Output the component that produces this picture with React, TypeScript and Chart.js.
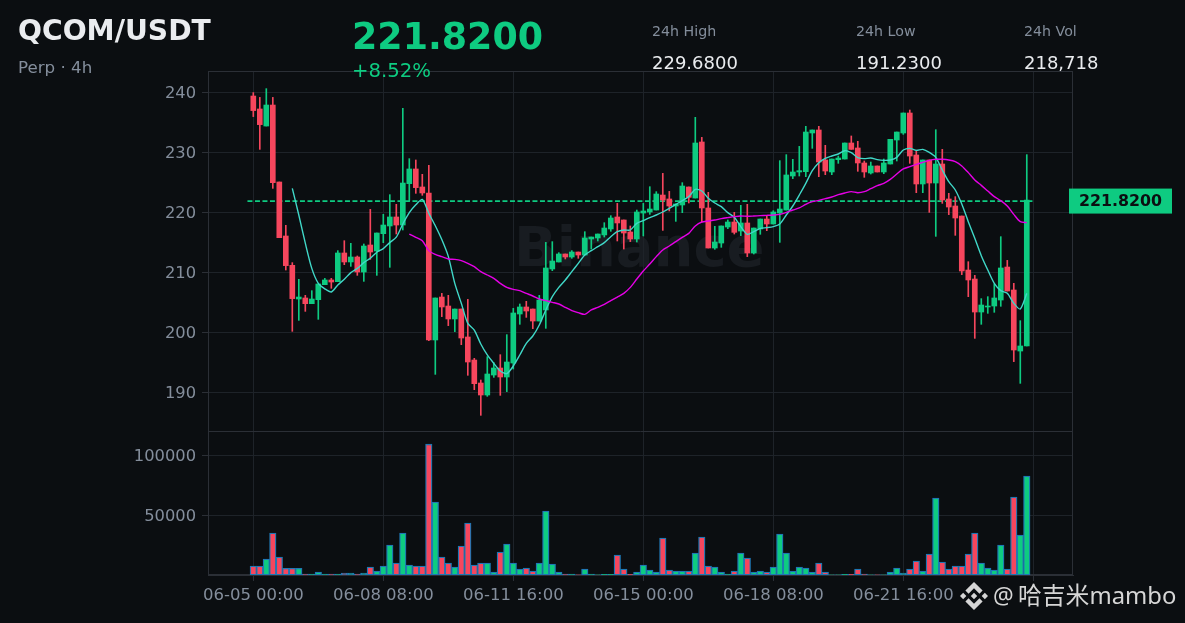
import React, { useEffect, useRef } from "react";
import { Chart, registerables } from "chart.js";

Chart.register(...registerables);

const opens = [
  239.33,237.17,234.33,237.83,225,216,211.11,205.5,205.67,204.72,
  205.39,207.89,208.67,208.39,213.17,211.67,212.5,210,214.5,213.5,
  216.39,217.67,219.17,217.83,224.72,227.17,224.17,223.17,198.67,205.83,
  204.33,202.17,203.83,199.17,195.33,191.5,189.5,192.83,194,192.5,
  194.83,203,204.17,203.83,201.83,203.67,210.5,211.67,213,212.5,
  213.33,212.83,215.5,215.67,216.17,217.17,219.17,218.67,216.67,215.5,
  219.83,220,220.33,222.83,222.17,221,221.17,224.17,222.33,231.67,
  220.67,214,214.83,217.5,218.33,216.83,218.17,213.17,217.17,218.83,
  218,219.83,220.33,226,226.67,226.72,233.17,233.67,228.67,226.67,
  228.72,228.83,231.5,230.67,228.17,226.5,227.67,226.67,228,232,
  233.17,236.5,229.5,224.67,228.67,224.83,228,222.17,221,219.33,
  210.33,208.83,203.33,204.17,204.33,205.33,210.83,207,196.83,197.67,
];
const closes = [
  236.9,234.56,237.83,224.89,215.72,211.06,205.56,205.83,204.72,205.5,
  208,208.67,208.33,213.17,211.67,212.5,210,214.33,213.33,216.5,
  217.83,219.17,217.83,224.83,227.17,224.06,223.17,198.67,205.67,204.17,
  202.17,203.83,199,195,191.39,189.5,193,194,192.5,195,
  203.17,204.17,203.5,201.83,205.33,210.67,211.83,213,212.5,213.33,
  212.83,215.67,215.83,216.33,217.33,219,218.17,216.5,215.5,220,
  220.17,220.5,223,222,221,221.33,224.33,222.44,231.5,220.67,
  214,215,217.67,218.33,216.61,218.17,213.17,217.33,218.83,218,
  220,220.5,226.17,226.67,226.89,233.33,233.67,228.33,226.83,228.83,
  229,231.5,230.44,228.17,226.67,227.67,226.67,228.17,232.11,233.33,
  236.5,229.33,224.67,228.67,224.83,228,222,220.83,219,210.17,
  208.67,203.33,204.5,204.33,205.67,210.67,206.83,197,197.67,222,
];
const highs = [
  239.9,239.1,240.56,239.1,225,217.78,211.56,208.78,206.11,206.89,
  208,208.94,208.94,213.56,215.22,214.78,212.67,214.67,220.44,216.5,
  219.61,222.89,221.28,237.28,228.89,228.67,226.28,227.78,205.67,206.44,
  206.11,203.83,203.83,205.44,195.61,192,195.89,194.89,196.22,199.56,
  203.94,204.67,205.11,203.83,206.11,214.94,215.06,213.22,213,213.56,
  213.33,216.72,215.83,216.33,218.22,219.39,221.44,218.67,217.67,220.33,
  221.44,224.22,223.39,226.44,223.44,221.33,224.89,224.17,235.78,232.44,
  223.28,217.61,217.67,218.67,219.94,221.11,221.28,217.33,218.83,219.33,
  220.22,228.56,229.56,228.78,230.94,234.28,233.67,234.28,231.11,228.83,
  229.33,231.5,232.67,231.78,228.5,228.33,227.67,228.83,232.11,233.33,
  236.5,237,230.22,228.67,228.67,233.72,230.44,223.11,222.56,219.33,
  211.72,209.44,205.56,205.89,208,215.89,211.94,208.11,201.89,229.56,
];
const lows = [
  235.9,230.44,234.33,223.94,215.72,210.33,200.11,201.94,203.44,204.72,
  202.11,207.89,207.28,208.39,211.22,210.94,209.44,208.44,212.11,209.44,
  214.89,210.78,216.33,217,221.89,223.11,222.78,198.56,192.94,202.56,
  201.06,200.06,197.89,192.78,190.39,186.11,189.28,192.44,189.44,190.06,
  193.83,201.28,202.44,200.56,201.83,200.61,210.22,211.67,212.17,212.28,
  212.28,212.83,213.83,215.17,215.83,216.78,215.17,213.83,215.06,215,
  216,219.61,220.33,216.94,220.17,218.44,219.89,221.5,222.33,218.33,
  214,213.78,214.11,217.22,216.33,216.06,212.56,213,216.28,216.89,
  218,214.94,220.33,225.56,226,225.89,230.61,225.89,226.22,226.22,
  228.11,228.83,230.44,226.78,225.78,226.33,226.67,226.39,228,228.5,
  232.94,228.11,223.22,223.22,219.94,215.94,221.44,219.56,216.11,209.56,
  205.89,198.94,201.28,203.11,203.28,204.28,206.83,195.06,191.44,197.67,
];
const volumes = [
  7500,7500,13300,35000,15000,5600,5600,5600,800,800,
  2500,800,800,800,1700,1700,800,1700,6700,3300,
  7500,25000,10000,35000,8300,7500,7500,109000,60800,15000,
  10000,6700,24200,43300,8300,10000,10000,2500,19200,25800,
  10000,5000,5800,3300,10000,53300,9200,2500,800,800,
  200,5000,800,200,500,500,16700,5000,500,2500,
  8300,4200,2500,30800,4200,3300,3300,3300,18300,31700,
  7500,6700,2500,800,3300,18300,14200,2500,3300,2500,
  6700,34200,18300,3300,6700,5800,2500,10000,2500,200,
  200,500,500,5000,800,200,200,200,2500,5800,
  1700,5000,11700,3300,17500,64200,10800,5000,7500,7500,
  17500,35000,10000,5800,4200,25000,5000,65000,33300,82500,
];
const ma7Start = 6;
const ma7 = [
  223.94,219.5,214.8,210.6,208.1,207.2,206.67,207.83,208.8,209.9,
  210.6,211.56,212.3,213.3,213.9,214.9,215.8,218,219.9,221.2,
  222.1,219.8,217.7,215.4,212.6,208.11,204.78,201.44,200.33,198,
  196.17,194.78,193.5,193.06,194.33,196.17,198.11,199.33,201.17,203.67,
  205.89,207.44,208.67,210.06,211.44,212.83,213.56,214.22,214.89,215.89,
  216.72,217,217,218.11,218.56,219.06,219.5,220,220.61,221.28,
  221.89,222.56,223.78,223.5,222.28,221.5,220.89,219.89,219.11,217.56,
  216.28,216.72,217.28,217.39,217.56,218,219.5,221,222.83,224.78,
  226.89,228.22,228.94,229.33,229.67,230.22,229.89,229.06,228.89,229,
  228.72,228.61,228.67,229.11,230.33,230.61,230.28,230.44,229.94,229.11,
  227,225.06,223.67,221.33,218.39,215.61,212.72,210.33,208.11,206.89,
  206.44,204.78,203.83,206.44,
];
const ma25Start = 24;
const ma25 = [
  216.33,215.78,215.22,213.56,212.94,212.56,
  212.17,212.11,211.89,211.44,210.89,210.06,209.5,208.94,208.11,207.44,
  207.11,206.89,206.44,206,205.5,205.22,204.94,204.67,204.11,203.56,
  203.22,202.94,203.67,204.11,204.61,205.22,205.83,206.44,207.44,208.83,
  210.17,211.33,212.56,213.67,214.33,215.06,215.78,216.44,217.67,218.33,
  218.5,218.67,218.89,219.06,219.22,219.33,219.28,219.33,219.39,219.44,
  219.5,219.61,219.94,220.33,220.67,221.28,221.72,221.94,222.22,222.5,
  222.89,223.17,223.39,223.22,223.39,223.89,224.39,224.78,225.44,226.33,
  227.17,227.56,227.94,228.28,228.61,228.78,228.78,228.67,228.39,227.67,
  226.56,225.33,224.44,223.5,222.56,221.89,221,219.61,218.39,218.22,
];
const tickLabels = ["06-05 00:00", "06-08 08:00", "06-11 16:00", "06-15 00:00", "06-18 08:00", "06-21 16:00"];
const priceTicks = [190, 200, 210, 220, 230, 240];
const volumeTicks = [50000, 100000];
const lastPrice = 221.82;
const lastPriceText = "221.8200";

const UP = "#0ecb81";
const DOWN = "#f6465d";
const BG = "#0b0e11";
const GRID = "#1e2329";
const EDGE = "#2b2f36";
const MUTED = "#848e9c";
const FONT = "'DejaVu Sans', sans-serif";

const colors = opens.map((o, i) => (closes[i] >= o ? UP : DOWN));

const panePlugin = {
  id: "panes",
  beforeDatasetsDraw(chart: any) {
    const { ctx, chartArea: a, scales } = chart;
    ctx.save();
    ctx.strokeStyle = EDGE;
    ctx.lineWidth = 1;
    ctx.strokeRect(a.left + 0.5, a.top + 0.5, a.width - 1, a.height - 1);
    const d = Math.round(scales.y.bottom) + 0.5;
    ctx.beginPath();
    ctx.moveTo(a.left, d);
    ctx.lineTo(a.right, d);
    ctx.stroke();
    ctx.restore();
  },
  afterDraw(chart: any) {
    const { ctx, chartArea: a, scales } = chart;
    const py = scales.y.getPixelForValue(lastPrice);
    ctx.save();
    ctx.textBaseline = "middle";
    // axis labels of the two price/volume panes
    ctx.fillStyle = MUTED;
    ctx.font = "16.3px " + FONT;
    ctx.textAlign = "right";
    [scales.y, scales.yv].forEach((s: any) => {
      s.ticks.forEach((t: any) => {
        ctx.fillText(String(t.value), a.left - 12, s.getPixelForValue(t.value) + 1.5);
      });
    });
    // last price tag
    ctx.fillStyle = UP;
    ctx.fillRect(a.right - 4, py - 12.5, 103, 25);
    ctx.fillStyle = BG;
    ctx.font = "bold 15.8px " + FONT;
    ctx.textAlign = "center";
    ctx.fillText(lastPriceText, a.right + 47.5, py + 0.5);
    ctx.restore();
  },
};

const label = (text: string, style: React.CSSProperties) => (
  <div style={{ position: "absolute", whiteSpace: "nowrap", fontFamily: FONT, lineHeight: 1, ...style }}>{text}</div>
);

export default function App() {
  const ref = useRef<HTMLCanvasElement>(null);
  useEffect(() => {
    document.body.style.margin = "0";
    document.body.style.background = BG;
    const xs = opens.map((_, i) => i);
    const chart = new Chart(ref.current!, {
      type: "bar",
      plugins: [panePlugin],
      data: {
        datasets: [
          {
            type: "line",
            data: [{ x: -0.9, y: lastPrice }, { x: 120, y: lastPrice }],
            yAxisID: "y",
            borderColor: UP,
            borderWidth: 1.6,
            borderDash: [5, 2.5],
            pointRadius: 0,
            order: 5,
          },
          {
            data: xs.map((i) => ({ x: i, y: [lows[i], highs[i]] })),
            yAxisID: "y",
            backgroundColor: colors,
            barThickness: 1,
            order: 4,
          },
          {
            data: xs.map((i) => ({ x: i, y: [opens[i], closes[i]] })),
            yAxisID: "y",
            backgroundColor: colors,
            barThickness: 5,
            order: 3,
          },
          {
            type: "line",
            data: ma7.map((v, i) => ({ x: i + ma7Start, y: v })),
            yAxisID: "y",
            borderColor: "#40d8c8",
            borderWidth: 1.4,
            pointRadius: 0,
            tension: 0.25,
            order: 2,
          },
          {
            type: "line",
            data: ma25.map((v, i) => ({ x: i + ma25Start, y: v })),
            yAxisID: "y",
            borderColor: "#e600e6",
            borderWidth: 1.4,
            pointRadius: 0,
            tension: 0.25,
            order: 1,
          },
          {
            data: xs.map((i) => ({ x: i, y: volumes[i] })),
            yAxisID: "yv",
            backgroundColor: colors,
            borderColor: "#1f77b4",
            borderWidth: 1.3,
            borderSkipped: false,
            barThickness: 6.5,
            order: 6,
          },
        ],
      } as any,
      options: {
        responsive: false,
        devicePixelRatio: 1,
        animation: false,
        layout: { padding: { top: 71, right: 112, bottom: 0, left: 0 } },
        plugins: { legend: { display: false }, tooltip: { enabled: false }, title: { display: false } },
        datasets: { bar: { grouped: false } },
        scales: {
          x: {
            type: "linear",
            min: -6.97,
            max: 126.11,
            offset: false,
            afterFit: (s: any) => { s.height = 48; },
            grid: { color: GRID, offset: false, tickLength: 6, tickColor: EDGE, drawTicks: true },
            border: { color: EDGE },
            ticks: {
              stepSize: 20,
              includeBounds: false,
              maxRotation: 0,
              autoSkip: false,
              padding: 5,
              color: MUTED,
              font: { family: FONT, size: 16.5 },
              callback: (v: any) => tickLabels[Number(v) / 20] ?? "",
            },
          },
          yv: {
            type: "linear",
            position: "left",
            stack: "panes",
            stackWeight: 144,
            min: 0,
            max: 120000,
            afterFit: (s: any) => { s.width = 208; },
            afterBuildTicks: (s: any) => { s.ticks = volumeTicks.map((value) => ({ value })); },
            grid: { color: GRID, tickLength: 6, tickColor: EDGE },
            border: { color: EDGE },
            ticks: { display: false },
          },
          y: {
            type: "linear",
            position: "left",
            stack: "panes",
            stackWeight: 360,
            min: 183.5,
            max: 243.5,
            afterFit: (s: any) => { s.width = 208; },
            afterBuildTicks: (s: any) => { s.ticks = priceTicks.map((value) => ({ value })); },
            grid: { color: GRID, tickLength: 6, tickColor: EDGE },
            border: { color: EDGE },
            ticks: { display: false },
          },
        },
      },
    } as any);
    return () => chart.destroy();
  }, []);

  return (
    <div style={{ position: "fixed", left: 0, top: 0, width: 1185, height: 623, background: BG, overflow: "hidden" }}>
      <div style={{ position: "absolute", left: 514, top: 215, fontFamily: FONT, fontWeight: 700, fontSize: 56, lineHeight: 1.15, color: "#181c21", whiteSpace: "nowrap" }}>Binance</div>
      <canvas ref={ref} width={1185} height={623} style={{ position: "absolute", left: 0, top: 0, display: "block" }} />
      {label("QCOM/USDT", { left: 18, top: 17, fontSize: 28.2, fontWeight: 700, color: "#eaecef" })}
      {label("Perp · 4h", { left: 18, top: 59, fontSize: 16.7, color: MUTED })}
      {label("221.8200", { left: 352, top: 19, fontSize: 36.4, fontWeight: 700, color: UP })}
      {label("+8.52%", { left: 352, top: 61, fontSize: 19.7, color: UP })}
      {label("24h High", { left: 652, top: 24, fontSize: 14.2, color: MUTED })}
      {label("229.6800", { left: 652, top: 54, fontSize: 18, color: "#eaecef" })}
      {label("24h Low", { left: 856, top: 24, fontSize: 14.2, color: MUTED })}
      {label("191.2300", { left: 856, top: 54, fontSize: 18, color: "#eaecef" })}
      {label("24h Vol", { left: 1024, top: 24, fontSize: 14.2, color: MUTED })}
      {label("218,718", { left: 1024, top: 54, fontSize: 18, color: "#eaecef" })}
      <svg viewBox="0 0 126.61 126.61" width={28} height={28} style={{ position: "absolute", left: 960, top: 582 }} fill="#d6d6d6">
        <path d="m38.73 53.2 24.59-24.58 24.6 24.6 14.3-14.31L63.32 0 24.43 38.9z" />
        <path d="M0 63.31l14.3-14.31 14.31 14.31-14.31 14.3z" />
        <path d="m38.73 73.41 24.59 24.59 24.6-24.6 14.31 14.29-38.9 38.91-38.91-38.88z" />
        <path d="m98 63.31 14.3-14.31 14.31 14.3-14.31 14.32z" />
        <path d="m77.83 63.3-14.51-14.52-10.73 10.73-1.24 1.23-2.54 2.54 14.51 14.5 14.51-14.47z" />
      </svg>
      {label("@", { left: 993, top: 584, fontSize: 23, color: "#d6d6d6", fontFamily: "'Noto Sans', sans-serif" })}
      {label("哈吉米mambo", { left: 1018, top: 584, fontSize: 23.8, color: "#d6d6d6", fontFamily: "'Noto Sans', 'Noto Sans CJK SC', sans-serif" })}
    </div>
  );
}
